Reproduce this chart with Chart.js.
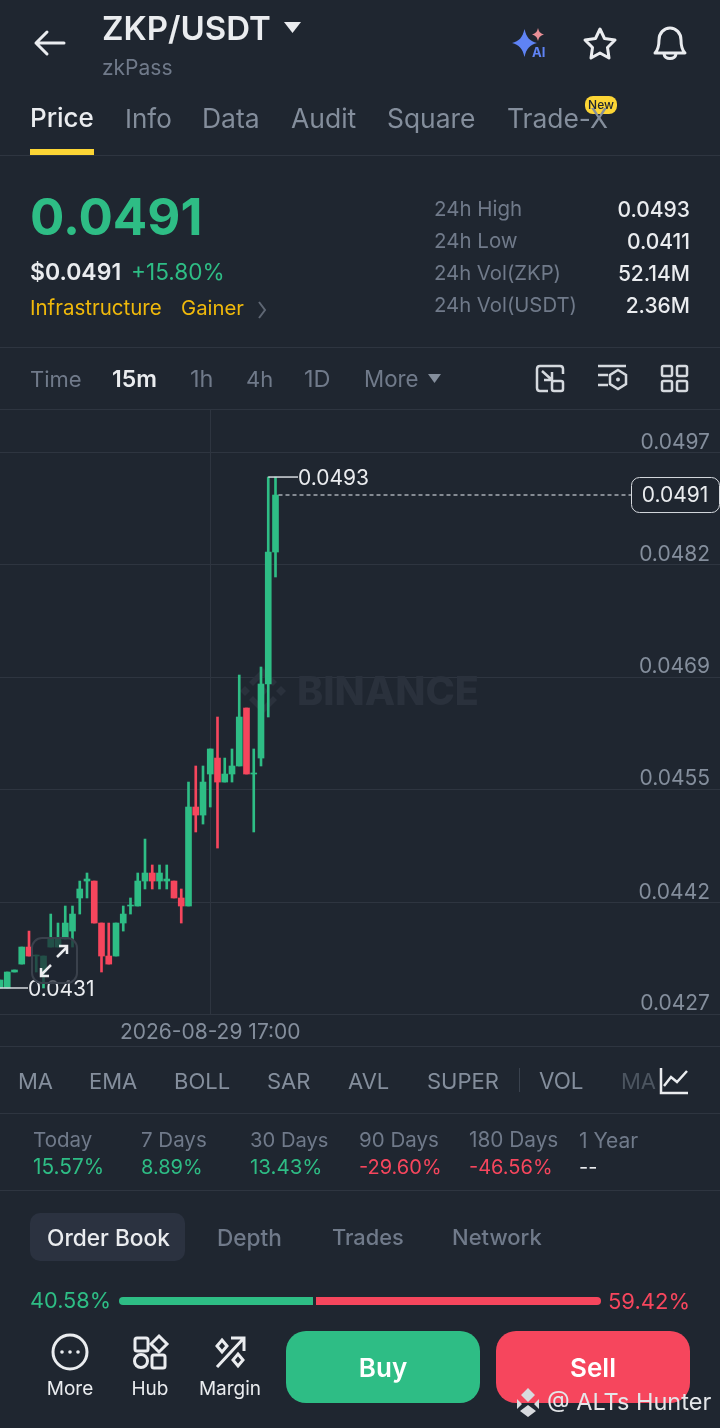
<!DOCTYPE html>
<html>
<head>
<meta charset="utf-8">
<script src="https://cdn.jsdelivr.net/npm/chart.js@4"></script>
<style>
    html, body { margin: 0; padding: 0; background: #1f2630; }
    #page { position: relative; width: 720px; height: 1428px; overflow: hidden; background: #1f2630; font-family: Inter, "Noto Sans", sans-serif; }
    #page span { position: absolute; white-space: nowrap; line-height: 1; transform: translateY(-50%); }
    #page span.right { transform: translate(-100%, -50%); }
    #page span.mid { transform: translate(-50%, -50%); }
    .box { position: absolute; }
    svg { position: absolute; overflow: visible; fill: none; }
    #chartWrap { position: absolute; left: 0; top: 410px; width: 720px; height: 636px; }
</style>
</head>
<body>
<div id="page">
    <div class="box" style="left:0;top:155px;width:720px;height:1px;background:#2e3540"></div>
    <div class="box" style="left:30px;top:149px;width:64px;height:6px;background:#fcd535"></div>
    <div class="box" style="left:0;top:347px;width:720px;height:1px;background:#2e3540"></div>
    <div class="box" style="left:0;top:409px;width:720px;height:1px;background:#2e3540"></div>
    <div class="box" style="left:0;top:1046px;width:720px;height:1px;background:#2e3540"></div>
    <div class="box" style="left:0;top:1113px;width:720px;height:1px;background:#2e3540"></div>
    <div class="box" style="left:0;top:1190px;width:720px;height:1px;background:#2e3540"></div>
    <div class="box" style="left:519px;top:1068px;width:1px;height:24px;background:#3a424e"></div>
    <div class="box" style="left:585px;top:96px;width:32px;height:18px;border-radius:8px;background:#fcd535"></div>
    <div class="box" style="left:30px;top:1213px;width:155px;height:48px;border-radius:10px;background:#2b3240"></div>
    <div class="box" style="left:119px;top:1297px;width:194px;height:8px;border-radius:4px 0 0 4px;background:#2ebd85"></div>
    <div class="box" style="left:316px;top:1297px;width:285px;height:8px;border-radius:0 4px 4px 0;background:#f6465d"></div>
    <div class="box" style="left:286px;top:1331px;width:194px;height:72px;border-radius:20px;background:#2ebd85"></div>
    <div class="box" style="left:496px;top:1331px;width:194px;height:72px;border-radius:20px;background:#f6465d"></div>

    <div id="chartWrap"><canvas id="klineChart" width="720" height="636"></canvas></div>

    <!-- header icons -->
    <svg style="left:0;top:0" width="720" height="1428" stroke="#eaecef" stroke-width="3">
        <path d="M36 43H64M47 32L36 43L47 54" stroke-linecap="round" stroke-linejoin="round"/>
        <path d="M284 22H301L292.5 33Z" fill="#eaecef" stroke="none"/>
        <path d="M524.5 29C526.5 38 530 41 537 43C530 45 526.5 48 524.5 57C522.5 48 519 45 512 43C519 41 522.5 38 524.5 29Z" fill="#5f83f5" stroke="none"/>
        <path d="M538 28C539 32 540 33 544 34.5C540 36 539 37 538 41C537 37 536 36 532 34.5C536 33 537 32 538 28Z" fill="#e88f96" stroke="none"/>
        <path d="M600 29L604.5 38.5L615 40L607.5 47.5L609 58L600 53L591 58L592.5 47.5L585 40L595.5 38.5Z" stroke-linejoin="round"/>
        <path d="M655 53C659 49 659 44 659 40C659 33 664 28 670 28C676 28 681 33 681 40C681 44 681 49 685 53ZM664 54C665 60 675 60 676 54" stroke-linejoin="round"/>
        <path d="M428 374H441L434.5 383Z" fill="#848e9c" stroke="none"/>
        <path d="M259 302L265 310L259 318" stroke="#5e6673" stroke-width="2"/>
        <!-- toolbar icons -->
        <path d="M548 391H540Q537 391 537 388V369Q537 366 540 366H560Q563 366 563 369V374" stroke="#d5d9de" stroke-width="2.5"/>
        <rect x="552" y="381" width="11" height="10" rx="2" stroke="#d5d9de" stroke-width="2.5"/>
        <path d="M542 371L552 380M552 372V380H544" stroke="#d5d9de" stroke-width="2.5"/>
        <path d="M598 366H626M598 375H608M598 385H608" stroke="#d5d9de" stroke-width="2.5"/>
        <path d="M618 370L626 375V384L618 389L610 384V375Z" stroke="#d5d9de" stroke-width="2.5"/>
        <circle cx="618" cy="379.5" r="2" fill="#d5d9de" stroke="none"/>
        <g stroke="#d5d9de" stroke-width="2.5">
            <rect x="662" y="366" width="10" height="10" rx="1.5"/><rect x="677" y="366" width="10" height="10" rx="1.5"/>
            <rect x="662" y="381" width="10" height="10" rx="1.5"/><rect x="677" y="381" width="10" height="10" rx="1.5"/>
        </g>
        <!-- indicator edit icon -->
        <path d="M661 1068V1093H688M664 1086L671 1077L677 1082L687 1071" stroke="#eaecef" stroke-width="2.5"/>
        <!-- bottom bar icons -->
        <circle cx="70" cy="1352" r="17" stroke="#eaecef"/>
        <circle cx="62" cy="1352" r="1.8" fill="#eaecef" stroke="none"/><circle cx="70" cy="1352" r="1.8" fill="#eaecef" stroke="none"/><circle cx="78" cy="1352" r="1.8" fill="#eaecef" stroke="none"/>
        <rect x="135" y="1338" width="13" height="13" rx="2" stroke="#eaecef"/>
        <path d="M159 1336L167 1344L159 1352L151 1344Z" stroke="#eaecef"/>
        <circle cx="141" cy="1361" r="6.5" stroke="#eaecef"/>
        <rect x="152" y="1355" width="13" height="13" rx="2" stroke="#eaecef"/>
        <path d="M217 1367L243 1339M231 1338H244V1351" stroke="#eaecef"/>
        <path d="M222 1340L227 1346L222 1352L217 1346Z" stroke="#eaecef"/>
        <path d="M238 1354L243 1360L238 1366L233 1360Z" stroke="#eaecef"/>
        <!-- watermark logo -->
        <path d="M528 1388L535 1395L528 1402L521 1395ZM517 1399L522 1404L517 1409ZM539 1399V1409L534 1404ZM528 1405L536 1411L528 1417L520 1411Z" fill="#d8dade" stroke="none"/>
        <!-- expand button -->
        <rect x="32" y="938" width="45" height="45" rx="10" fill="rgba(31,38,48,0.72)" stroke="#3a414c" stroke-width="2"/>
        <path d="M57 957L67 947M59 946H67V954M51 965L41 975M49 976H41V968" stroke="#eaecef" stroke-width="2.5"/>
    </svg>
</div>

<script>
// candles, 15m
const candleIndex = [0,1,2,3,4,5,6,7,8,9,10,11,12,13,14,15,16,17,18,19,20,21,22,23,24,25,26,27,28,29,30,31,32,33,34,35,36,37,38];
const opens = [0.042947,0.042947,0.043146,0.043245,0.043457,0.043345,0.043146,0.043457,0.043457,0.043557,0.043656,0.044068,0.044279,0.044279,0.043756,0.043345,0.043345,0.043756,0.043968,0.043968,0.044279,0.044379,0.044279,0.044279,0.044279,0.044068,0.043968,0.045201,0.045101,0.045612,0.045811,0.045512,0.045612,0.045712,0.046434,0.045612,0.045811,0.046733,0.048377];
const closes = [0.043046,0.043146,0.043171,0.043457,0.043345,0.043357,0.043345,0.043557,0.043557,0.043756,0.043868,0.044180,0.044304,0.043756,0.043345,0.043245,0.043756,0.043868,0.043980,0.044279,0.044379,0.044279,0.044379,0.044304,0.044068,0.043968,0.045201,0.045101,0.045512,0.045924,0.045512,0.045612,0.045712,0.046322,0.045612,0.045625,0.046733,0.048377,0.049087];
const highs = [0.043046,0.043146,0.043171,0.043457,0.043656,0.043357,0.043345,0.043868,0.043756,0.043968,0.043968,0.044279,0.044379,0.044279,0.043756,0.043756,0.043756,0.043968,0.044068,0.044379,0.044802,0.044479,0.044479,0.044479,0.044279,0.044180,0.045512,0.045712,0.045712,0.045924,0.046322,0.045811,0.045924,0.046845,0.046434,0.045924,0.046945,0.049311,0.049311];
const lows = [0.042947,0.042947,0.043146,0.043245,0.043345,0.043146,0.042947,0.043457,0.043457,0.043557,0.043457,0.043868,0.044068,0.043756,0.043146,0.043245,0.043345,0.043656,0.043868,0.043968,0.044180,0.044180,0.044180,0.044180,0.044068,0.043756,0.043968,0.044890,0.044989,0.045201,0.044690,0.045512,0.045512,0.045712,0.045612,0.044890,0.045712,0.046322,0.048066];

const gridPrices = [0.049612,0.048217,0.046820,0.045425,0.044007,0.042623];
const priceLabels = ["0.0497","0.0482","0.0469","0.0455","0.0442","0.0427"];
const timeTickIndex = 29;
const timeTickLabel = "2026-08-29 17:00";

const lastPrice = 0.049087;
const lastPriceLabel = "0.0491";
const highPrice = 0.049311;
const highLabel = "0.0493";
const lowPrice = 0.042947;
const lowLabel = "0.0431";

const GREEN = "#2ebd85";
const RED = "#f6465d";
const GRID = "#2e3540";
const FONT = 'Inter, "Noto Sans", sans-serif';

// page text: [text, x, centre y, size, colour, weight, align]
const WHITE = "#eaecef", GRAY = "#848e9c", DIM = "#707a8a";
const pageTexts = [
    ["ZKP/USDT",102,28,33,WHITE,600], ["zkPass",102,67,21,DIM,400],
    ["Price",30,118,26,WHITE,500], ["Info",125,119,26,GRAY,400], ["Data",202,118,26.5,GRAY,400],
    ["Audit",291,118,26.5,GRAY,400], ["Square",387,118,26.4,GRAY,400], ["Trade-X",507,118,26.4,GRAY,400],
    ["New",601,105,12,"#202630",500,"mid"], ["AI",532,52,13,"#5f83f5",700],
    ["0.0491",30,216,51,GREEN,700],
    ["$0.0491",30,272,23,WHITE,600], ["+15.80%",131,272,22.6,GREEN,400],
    ["Infrastructure",30,308,20.5,"#f0b90b",400], ["Gainer",181,308,20.3,"#f0b90b",400],
    ["24h High",434,209,20.5,DIM,400], ["24h Low",434,241,20.5,DIM,400],
    ["24h Vol(ZKP)",434,273,20.3,DIM,400], ["24h Vol(USDT)",434,305,20.3,DIM,400],
    ["0.0493",690,209,21,WHITE,500,"right"], ["0.0411",690,241,21,WHITE,500,"right"],
    ["52.14M",690,273,21,WHITE,500,"right"], ["2.36M",690,305,21,WHITE,500,"right"],
    ["Time",30,379,22,DIM,400], ["15m",112,379,23,WHITE,600], ["1h",190,379,23.5,DIM,400],
    ["4h",246,379,22,DIM,400], ["1D",304,379,23.5,DIM,400], ["More",364,379,22.3,DIM,400],
    ["MA",18,1081,22,GRAY,400], ["EMA",89,1081,22,GRAY,400], ["BOLL",174,1081,22,GRAY,400],
    ["SAR",267,1081,22,GRAY,400], ["AVL",348,1081,22,GRAY,400], ["SUPER",427,1081,22,GRAY,400],
    ["VOL",539,1081,22.4,GRAY,400], ["MA",621,1081,22,"#4c5560",400],
    ["Today",33,1140,20.5,DIM,400], ["7 Days",141,1140,20.5,DIM,400], ["30 Days",250,1140,20.2,DIM,400],
    ["90 Days",359,1140,20.5,DIM,400], ["180 Days",469,1140,20.8,DIM,400], ["1 Year",579,1140,21,DIM,400],
    ["15.57%",33,1167,20.8,GREEN,400], ["8.89%",141,1167,20,GREEN,400], ["13.43%",250,1167,20.5,GREEN,400],
    ["-29.60%",359,1167,20,RED,400], ["-46.56%",469,1167,20,RED,400], ["--",579,1167,20,WHITE,400],
    ["Order Book",47,1238,22.7,WHITE,500], ["Depth",217,1238,22.6,DIM,500], ["Trades",332,1238,21.8,DIM,500], ["Network",452,1237,22,DIM,500],
    ["40.58%",30,1301,21.7,GREEN,400], ["59.42%",690,1301,22,RED,400,"right"],
    ["More",70,1388,19,WHITE,400,"mid"], ["Hub",150,1388,19,WHITE,400,"mid"], ["Margin",230,1388,19,WHITE,400,"mid"],
    ["Buy",383,1368,26,"#fff",600,"mid"], ["Sell",593,1368,26,"#fff",600,"mid"],
    ["@ ALTs Hunter",547,1402,23.5,"#e4e6e9",400],
];

const page = document.getElementById("page");
pageTexts.forEach(([text, x, y, size, color, weight, align]) => {
    const el = document.createElement("span");
    el.textContent = text;
    el.style.cssText = `left:${x}px;top:${y}px;font-size:${size}px;color:${color};font-weight:${weight};`;
    if (align) el.className = align;
    page.appendChild(el);
});

function fillPolygon(ctx, points) {
    ctx.beginPath();
    points.forEach(([px, py], i) => (i ? ctx.lineTo(px, py) : ctx.moveTo(px, py)));
    ctx.closePath();
    ctx.fill();
}

// watermark, last price line, high / low marks
const overlayPlugin = {
    id: "overlay",
    beforeDatasetsDraw(chart) {
        const { ctx } = chart;
        ctx.save();
        ctx.fillStyle = "#2a313c";
        ctx.font = "800 39.5px " + FONT;
        ctx.textBaseline = "middle";
        ctx.fillText("BINANCE", 297, 283);
        const cx = 263, cy = 281;
        [-18, 0, 18].forEach((dx) => {
            fillPolygon(ctx, [[cx + dx, cy - 5], [cx + dx + 5, cy], [cx + dx, cy + 5], [cx + dx - 5, cy]]);
        });
        fillPolygon(ctx, [[cx, cy - 23], [cx + 14, cy - 9], [cx + 10, cy - 5], [cx, cy - 15], [cx - 10, cy - 5], [cx - 14, cy - 9]]);
        fillPolygon(ctx, [[cx, cy + 23], [cx + 14, cy + 9], [cx + 10, cy + 5], [cx, cy + 15], [cx - 10, cy + 5], [cx - 14, cy + 9]]);
        ctx.restore();
    },
    afterDatasetsDraw(chart) {
        const { ctx, scales: { x, y } } = chart;
        ctx.save();
        ctx.font = "400 21px " + FONT;
        ctx.textBaseline = "middle";

        const lastY = y.getPixelForValue(lastPrice);
        ctx.strokeStyle = "#a7acb3";
        ctx.lineWidth = 1.5;
        ctx.setLineDash([4, 3]);
        ctx.beginPath();
        ctx.moveTo(x.getPixelForValue(38) + 3, lastY);
        ctx.lineTo(631, lastY);
        ctx.stroke();
        ctx.setLineDash([]);

        ctx.fillStyle = "#1f2630";
        ctx.strokeStyle = "#d5d9de";
        ctx.lineWidth = 1;
        ctx.beginPath();
        ctx.roundRect(631.5, lastY - 17.5, 88, 35, 8);
        ctx.fill();
        ctx.stroke();
        ctx.fillStyle = "#eaecef";
        ctx.textAlign = "center";
        ctx.fillText(lastPriceLabel, 675, lastY + 1);
        ctx.textAlign = "left";

        const hiY = y.getPixelForValue(highPrice);
        ctx.strokeStyle = "#d5d9de";
        ctx.lineWidth = 1.5;
        ctx.beginPath();
        ctx.moveTo(x.getPixelForValue(37), hiY);
        ctx.lineTo(298, hiY);
        ctx.stroke();
        ctx.fillText(highLabel, 298, hiY + 2);

        const loY = y.getPixelForValue(lowPrice);
        ctx.beginPath();
        ctx.moveTo(0, loY);
        ctx.lineTo(28, loY);
        ctx.stroke();
        ctx.fillText(lowLabel, 28, loY + 2);
        ctx.restore();
    },
};

const wickPoints = candleIndex.map((i) => ({ x: i, y: [lows[i], highs[i]] }));
const bodyPoints = candleIndex.map((i) => ({ x: i, y: [opens[i], closes[i]] }));
const candleColors = candleIndex.map((i) => (closes[i] >= opens[i] ? GREEN : RED));

new Chart(document.getElementById("klineChart").getContext("2d"), {
    type: "bar",
    data: {
        datasets: [
            { data: wickPoints, backgroundColor: candleColors, barThickness: 2, grouped: false, order: 2 },
            { data: bodyPoints, backgroundColor: candleColors, barThickness: 6, grouped: false, order: 1 },
        ],
    },
    options: {
        responsive: false,
        animation: false,
        devicePixelRatio: 1,
        layout: { padding: 0 },
        plugins: { legend: { display: false }, tooltip: { enabled: false } },
        scales: {
            x: {
                type: "linear",
                offset: false,
                min: 0,
                max: 99.31,
                afterBuildTicks: (scale) => { scale.ticks = [{ value: timeTickIndex }]; },
                afterFit: (scale) => {
                    scale.height = 32;
                    scale.paddingLeft = 0;
                    scale.paddingRight = 0;
                },
                grid: { color: GRID, drawTicks: false, offset: false },
                border: { display: false },
                ticks: {
                    autoSkip: false,
                    maxRotation: 0,
                    padding: 6,
                    color: GRAY,
                    font: { size: 21, family: FONT },
                    callback: () => timeTickLabel,
                },
            },
            y: {
                position: "right",
                min: 0.042623,
                max: 0.050146,
                afterBuildTicks: (scale) => { scale.ticks = gridPrices.map((value) => ({ value })); },
                afterFit: (scale) => {
                    scale.width = 0;
                    scale.paddingTop = 0;
                    scale.paddingBottom = 0;
                },
                grid: { color: GRID, drawTicks: false },
                border: { display: false },
                ticks: {
                    mirror: true,
                    padding: -10,
                    labelOffset: -10,
                    color: GRAY,
                    font: { size: 21, family: FONT },
                    callback: (value, index) => priceLabels[index],
                },
            },
        },
    },
    plugins: [overlayPlugin],
});
</script>
</body>
</html>
